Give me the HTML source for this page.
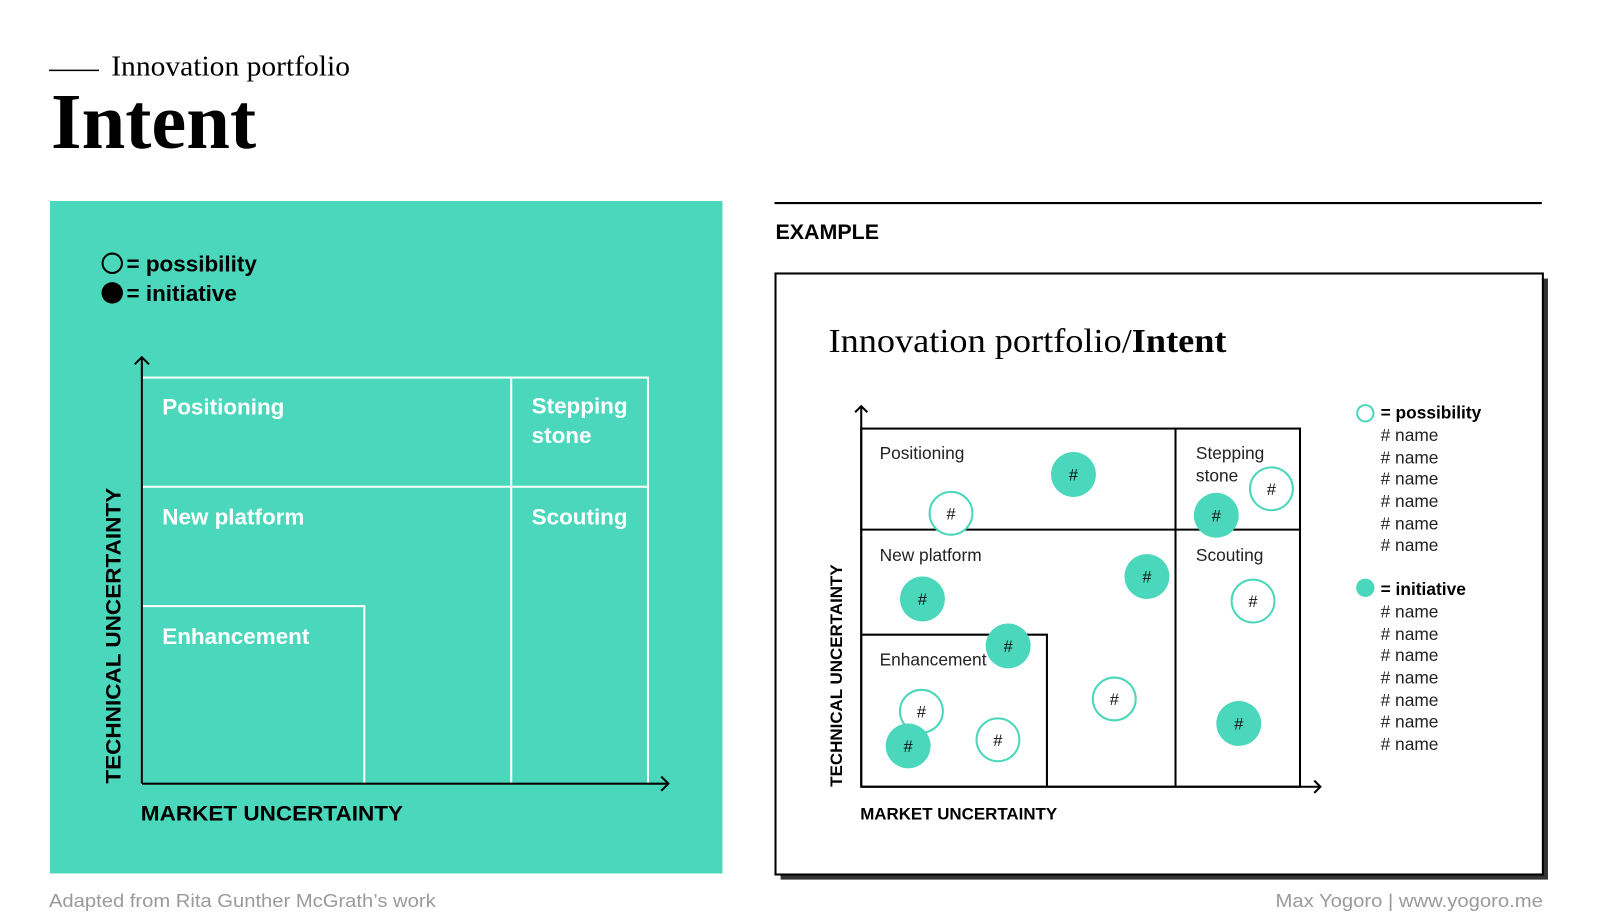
<!DOCTYPE html>
<html><head><meta charset="utf-8"><style>
html,body{margin:0;padding:0;background:#fff;}
svg{display:block;}
.s{font-family:"Liberation Sans",sans-serif;}
.r{font-family:"Liberation Serif",serif;}
</style></head><body>
<svg width="1600" height="924" viewBox="0 0 1568 905.5" xmlns="http://www.w3.org/2000/svg">
<!-- header -->
<line x1="48" y1="69" x2="97" y2="69" stroke="#000" stroke-width="1.5"/>
<text x="109" y="74" class="r" font-size="28" textLength="234" lengthAdjust="spacingAndGlyphs">Innovation portfolio</text>
<text x="50" y="145" class="r" font-size="78" font-weight="bold" textLength="201" lengthAdjust="spacingAndGlyphs">Intent</text>

<!-- left panel -->
<rect x="49" y="197" width="659" height="659" fill="#4ad7bb"/>
<circle cx="110" cy="258" r="9.5" fill="none" stroke="#000" stroke-width="2"/>
<circle cx="110" cy="287" r="10.5" fill="#000"/>
<text x="124" y="266" class="s" font-size="22" font-weight="bold">= possibility</text>
<text x="124" y="295" class="s" font-size="22" font-weight="bold">= initiative</text>
<g fill="none" stroke="#fff" stroke-width="2">
<rect x="139" y="370" width="496" height="398"/>
<line x1="139" y1="477" x2="635" y2="477"/>
<line x1="501" y1="370" x2="501" y2="768"/>
<polyline points="139,594 357,594 357,768"/>
</g>
<g fill="none" stroke="#000" stroke-width="2">
<line x1="139" y1="350" x2="139" y2="768"/>
<line x1="139" y1="768" x2="655" y2="768"/>
<polyline points="132,357 139,350 146,357"/>
<polyline points="648,761 655,768 648,775"/>
</g>
<g class="s" font-size="22" font-weight="bold" fill="#fff">
<text x="159" y="406">Positioning</text>
<text x="521" y="405">Stepping</text>
<text x="521" y="434">stone</text>
<text x="159" y="514">New platform</text>
<text x="521" y="514">Scouting</text>
<text x="159" y="631">Enhancement</text>
</g>
<text x="138" y="804" class="s" font-size="21" font-weight="bold" textLength="257" lengthAdjust="spacingAndGlyphs">MARKET UNCERTAINTY</text>
<text transform="translate(118,768) rotate(-90)" class="s" font-size="21" font-weight="bold" textLength="290" lengthAdjust="spacingAndGlyphs">TECHNICAL UNCERTAINTY</text>
<text x="48" y="889" class="s" font-size="18" fill="#9a9a9a" textLength="379" lengthAdjust="spacingAndGlyphs">Adapted from Rita Gunther McGrath’s work</text>
<text x="1250" y="889" class="s" font-size="18" fill="#9a9a9a" textLength="262" lengthAdjust="spacingAndGlyphs">Max Yogoro | www.yogoro.me</text>

<!-- example -->
<line x1="759" y1="199" x2="1511" y2="199" stroke="#000" stroke-width="2"/>
<text x="760" y="234" class="s" font-size="21" font-weight="bold">EXAMPLE</text>
<rect x="765" y="273" width="752" height="589" fill="#333"/>
<rect x="760" y="268" width="752" height="589" fill="#fff" stroke="#000" stroke-width="2"/>
<text x="812" y="345" class="r" font-size="33" textLength="390" lengthAdjust="spacingAndGlyphs">Innovation portfolio/<tspan font-weight="bold">Intent</tspan></text>

<g fill="none" stroke="#000" stroke-width="2">
<rect x="844" y="420" width="430" height="351"/>
<line x1="844" y1="519" x2="1274" y2="519"/>
<line x1="1152" y1="420" x2="1152" y2="771"/>
<polyline points="844,622 1026,622 1026,771"/>
<line x1="844" y1="398" x2="844" y2="771"/>
<line x1="844" y1="771" x2="1294" y2="771"/>
<polyline points="838,404 844,398 850,404"/>
<polyline points="1288,765 1294,771 1288,777"/>
</g>
<g class="s" font-size="17" fill="#222">
<text x="862" y="450">Positioning</text>
<text x="1172" y="450">Stepping</text>
<text x="1172" y="472">stone</text>
<text x="862" y="550">New platform</text>
<text x="1172" y="550">Scouting</text>
<text x="862" y="652">Enhancement</text>
</g>
<text x="843" y="803" class="s" font-size="16" font-weight="bold" textLength="193" lengthAdjust="spacingAndGlyphs">MARKET UNCERTAINTY</text>
<text transform="translate(825,771) rotate(-90)" class="s" font-size="16" font-weight="bold" textLength="218" lengthAdjust="spacingAndGlyphs">TECHNICAL UNCERTAINTY</text>

<g fill="#fff" stroke="#4ad7bb" stroke-width="2">
<circle cx="932" cy="503" r="21"/>
<circle cx="1246" cy="479" r="21"/>
<circle cx="1228" cy="589" r="21"/>
<circle cx="903" cy="697" r="21"/>
<circle cx="978" cy="725" r="21"/>
<circle cx="1092" cy="685" r="21"/>
</g>
<g fill="#4ad7bb">
<circle cx="1052" cy="465" r="22"/>
<circle cx="1192" cy="505" r="22"/>
<circle cx="904" cy="587" r="22"/>
<circle cx="1124" cy="565" r="22"/>
<circle cx="988" cy="633" r="22"/>
<circle cx="890" cy="731" r="22"/>
<circle cx="1214" cy="709" r="22"/>
</g>
<g class="s" font-size="16" text-anchor="middle" fill="#111">
<text x="932" y="509">#</text><text x="1246" y="485">#</text><text x="1228" y="595">#</text>
<text x="903" y="703">#</text><text x="978" y="731">#</text><text x="1092" y="691">#</text>
<text x="1052" y="471">#</text><text x="1192" y="511">#</text><text x="904" y="593">#</text>
<text x="1124" y="571">#</text><text x="988" y="639">#</text><text x="890" y="737">#</text>
<text x="1214" y="715">#</text>
</g>

<!-- legend -->
<circle cx="1338" cy="405" r="8" fill="none" stroke="#4ad7bb" stroke-width="2"/>
<circle cx="1338" cy="576" r="9" fill="#4ad7bb"/>
<text x="1353" y="410" class="s" font-size="17" font-weight="bold">= possibility</text>
<text x="1353" y="583" class="s" font-size="17" font-weight="bold">= initiative</text>
<g class="s" font-size="17" fill="#222">
<text x="1353" y="432"># name</text><text x="1353" y="454"># name</text><text x="1353" y="475"># name</text>
<text x="1353" y="497"># name</text><text x="1353" y="519"># name</text><text x="1353" y="540"># name</text>
<text x="1353" y="605"># name</text><text x="1353" y="627"># name</text><text x="1353" y="648"># name</text>
<text x="1353" y="670"># name</text><text x="1353" y="692"># name</text><text x="1353" y="713"># name</text>
<text x="1353" y="735"># name</text>
</g>
</svg>
</body></html>
